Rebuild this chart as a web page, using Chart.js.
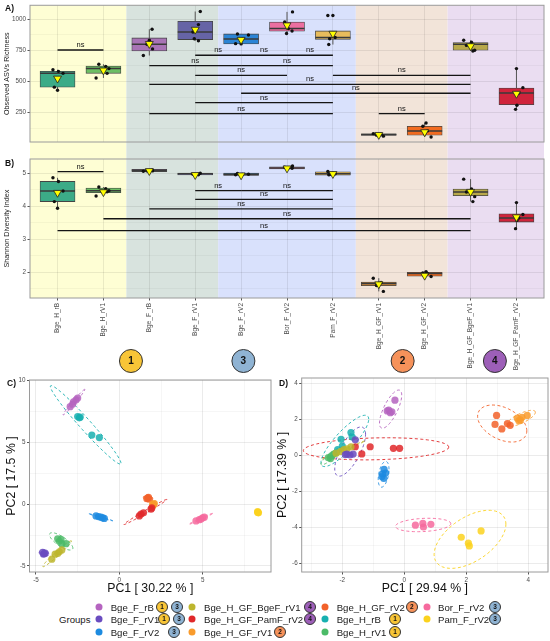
<!DOCTYPE html>
<html lang="en">
<head>
<meta charset="UTF-8">
<title>Richness, Shannon index and PCA</title>
<script src="https://cdn.jsdelivr.net/npm/chart.js"></script>
<style>
  body { margin: 0; background: #fff; font-family: "Liberation Sans", Arial, sans-serif; }
  #wrap { position: relative; width: 550px; height: 641px; overflow: hidden; }
  canvas { position: absolute; }
  .plab { position: absolute; font-size: 8.5px; font-weight: bold; color: #111; }
  .lg { position: absolute; font-size: 9.6px; color: #1a1a1a; white-space: nowrap; line-height: 11px; transform: translateY(-50%); }
  .dot { position: absolute; width: 7px; height: 7px; border-radius: 50%; transform: translate(-50%, -50%); }
  .badge { position: absolute; width: 10px; height: 10px; border-radius: 50%; border: 1px solid #333;
           transform: translate(-50%, -50%); font-size: 6.5px; font-weight: bold; text-align: center; line-height: 10px; color: #111; }
</style>
</head>
<body>
<div id="wrap">
  <canvas id="cA" width="550" height="151" style="left:0;top:0"></canvas>
  <canvas id="cB" width="550" height="229" style="left:0;top:151px"></canvas>
  <canvas id="cC" width="275" height="224" style="left:0;top:372px"></canvas>
  <canvas id="cD" width="275" height="224" style="left:275px;top:372px"></canvas>
  <div class="plab" style="left:5px;top:3px">A)</div>
  <div class="plab" style="left:5px;top:158px">B)</div>
  <div class="plab" style="left:7px;top:378px">C)</div>
  <div class="plab" style="left:279px;top:378px">D)</div>
  <div id="legend"></div>
</div>
<script>
// ---- boxplot panels (A, B) ----
const groups = ['Bge_H_rB', 'Bge_H_rV1', 'Bge_F_rB', 'Bge_F_rV1', 'Bge_F_rV2', 'Bor_F_rV2', 'Pam_F_rV2',
                'Bge_H_GF_rV1', 'Bge_H_GF_rV2', 'Bge_H_GF_BgeF_rV1', 'Bge_H_GF_PamF_rV2'];

// Observed ASVs richness
const richQ1   = [455, 566, 746, 837, 802, 904, 839, 68, 69, 751, 315];
const richMed  = [566, 604, 799, 898, 842, 925, 853, 75, 104, 799, 408];
const richQ3   = [582, 625, 850, 984, 882, 978, 906, 80, 141, 813, 448];
const richLo   = [430, 529, 709, 827, 802, 885, 797, 60, 55, 745, 277];
const richHi   = [595, 639, 920, 1062, 882, 1059, 906, 82, 167, 831, 604];
const richMean = [525, 590, 803, 917, 836, 952, 885, 73, 95, 785, 403];
const richPts = [
  [595, 582, 566, 455, 430], [639, 622, 604, 566, 529], [920, 831, 799, 762, 709],
  [1062, 957, 898, 843, 827], [882, 874, 842, 804, 802], [1059, 978, 925, 906, 885],
  [1030, 1030, 853, 843, 797], [82, 78, 75, 70, 62], [167, 141, 104, 80, 55],
  [831, 815, 790, 751, 745], [604, 451, 408, 310, 277]
];
// Shannon diversity index
const shanQ1   = [4.14, 4.41, 5.05, 4.95, 4.93, 5.13, 4.94, 1.59, 1.88, 4.32, 3.52];
const shanMed  = [4.46, 4.47, 5.09, 4.98, 4.96, 5.16, 4.98, 1.66, 1.96, 4.43, 3.64];
const shanQ3   = [4.75, 4.55, 5.12, 5.00, 5.00, 5.19, 5.04, 1.70, 2.00, 4.52, 3.77];
const shanLo   = [3.97, 4.31, 5.04, 4.94, 4.93, 5.12, 4.93, 1.42, 1.86, 4.14, 3.32];
const shanHi   = [4.86, 4.58, 5.12, 5.01, 5.00, 5.22, 5.05, 1.82, 2.02, 4.82, 4.11];
const shanMean = [4.41, 4.43, 5.07, 4.95, 4.94, 5.15, 4.98, 1.64, 1.90, 4.44, 3.67];
const shanPts = [
  [4.86, 4.75, 4.46, 4.14, 3.94], [4.58, 4.53, 4.47, 4.44, 4.31], [5.10, 5.08, 5.07, 5.07, 5.06],
  [5.00, 4.98, 4.97, 4.96, 4.95], [4.99, 4.97, 4.96, 4.95, 4.94], [5.22, 5.18, 5.16, 5.15, 5.14],
  [5.05, 5.00, 4.98, 4.96, 4.95], [1.82, 1.69, 1.67, 1.60, 1.42], [2.02, 1.98, 1.96, 1.88, 1.87],
  [4.82, 4.52, 4.43, 4.29, 4.14], [4.11, 3.75, 3.64, 3.57, 3.32]
];
// horizontal jitter of the sample points (category units)
const jitter = [
  [-0.10, 0.02, 0.12, -0.07, 0.00], [-0.10, 0.05, 0.12, 0.08, -0.16], [0.06, 0.00, -0.05, 0.07, -0.13],
  [0.11, 0.07, -0.05, -0.02, 0.07], [-0.08, 0.16, 0.03, -0.12, 0.00], [0.12, -0.05, 0.03, 0.11, -0.01],
  [-0.11, 0.00, 0.05, -0.07, -0.09], [-0.12, 0.05, 0.00, -0.05, 0.10], [0.03, -0.04, 0.06, 0.00, 0.14],
  [-0.15, 0.02, -0.09, 0.09, 0.05], [0.00, 0.14, 0.05, 0.01, -0.02]
];
// significance brackets: [from, to, height]
const sigA = [[0, 1, 753], [3, 4, 711], [4, 5, 711], [5, 6, 711], [2, 4, 628], [4, 6, 628], [3, 5, 550],
              [6, 9, 550], [2, 9, 478], [4, 9, 406], [3, 6, 331], [2, 6, 243], [7, 8, 243]];
const sigB = [[0, 1, 5.05], [3, 4, 4.47], [4, 6, 4.47], [3, 6, 4.21], [2, 6, 3.92], [1, 9, 3.62], [0, 9, 3.26]];
const sigText = 'ns';

// ---- PCA panels (C, D) ----
const pcaGroups = ['Bge_F_rB', 'Bge_F_rV1', 'Bge_F_rV2', 'Bge_H_GF_BgeF_rV1', 'Bge_H_GF_PamF_rV2', 'Bge_H_GF_rV1',
                   'Bge_H_GF_rV2', 'Bge_H_rB', 'Bge_H_rV1', 'Bor_F_rV2', 'Pam_F_rV2'];
const pcaGroupTags = [[1, 3], [1, 3], [3], [4], [4], [2], [2], [1], [1], [3], [3]];
const pcaCx = [
  [-2.95, -2.8, -2.6, -2.5, -2.75], [-4.6, -4.5, -4.45, -4.55], [-1.4, -1.25, -1.1, -1.0, -0.9],
  [-4.05, -3.85, -3.7, -3.6, -3.45], [1.2, 1.3, 1.45, 1.9, 1.95], [2.0, 2.05, 2.1, 2.02],
  [1.65, 1.75, 1.8, 1.7], [-2.5, -2.4, -2.35, -1.65, -1.2], [-3.7, -3.5, -3.6, -3.45, -3.2],
  [4.6, 4.8, 4.9, 5.0, 5.1], [8.3, 8.35, 8.3, 8.32]
];
const pcaCy = [
  [7.9, 8.1, 8.45, 8.6, 8.3], [-3.9, -4.0, -3.95, -4.05], [-0.95, -1.0, -1.05, -1.1, -1.15],
  [-4.45, -4.05, -4.0, -3.85, -3.7], [-0.95, -0.8, -0.7, -0.4, -0.3], [0.0, -0.05, 0.05, -0.1],
  [0.45, 0.55, 0.4, 0.5], [7.1, 7.0, 7.05, 5.6, 5.4], [-2.8, -2.85, -3.0, -3.2, -3.2],
  [-1.35, -1.25, -1.2, -1.1, -1.05], [-0.6, -0.7, -0.65, -0.68]
];
const pcaDx = [
  [-0.3, -0.55, -0.45, -0.5, -0.4], [-1.58, -1.85, -1.75, -1.9, -1.65], [-0.65, -0.7, -0.72, -0.66, -0.6],
  [-2.2, -2.05, -1.95, -1.85, -1.72], [-1.58, -1.37, -1.1, -0.35, -0.15], [3.65, 3.75, 3.8, 3.97, 3.7],
  [2.98, 2.93, 3.15, 3.33, 3.42], [-1.72, -1.68, -2.04, -2.0, -2.15], [-2.45, -2.38, -2.28, -2.2, -2.35],
  [0.36, 0.6, 0.62, 0.86], [1.84, 2.07, 2.1, 2.48]
];
const pcaDy = [
  [3.05, 2.45, 2.35, 2.5, 2.4], [0.85, 0.05, 0.0, 0.02, 0.05], [-0.8, -1.05, -1.2, -1.3, -1.0],
  [0.1, 0.2, 0.3, 0.35, 0.45], [0.46, 0.06, 0.46, 0.37, 0.37], [2.05, 1.95, 2.1, 2.2, 1.9],
  [2.2, 1.7, 1.45, 1.75, 1.65], [1.25, 1.0, 0.87, 0.5, 0.3], [-0.15, -0.2, 0.05, 0.12, -0.05],
  [-3.9, -3.8, -4.0, -3.85], [-4.57, -4.9, -5.05, -4.22]
];

// ---- styling ----
const FONT = '"Liberation Sans", Arial, Helvetica, sans-serif';
Chart.defaults.font.family = FONT;
const boxFill = ['#3CAB87', '#6CBF63', '#A874B5', '#6664A6', '#2B84D6', '#EC6FA0', '#E8BC5C',
                 '#D0873A', '#F26B1F', '#B8A84A', '#D0243C'];
const pcaColors = ['#B564C0', '#6A4CC0', '#1D8BE0', '#BDB62E', '#E0282A', '#F99B2C',
                   '#F2622A', '#18B0B0', '#4CBB68', '#F66A9E', '#FBD21E'];
const tagColors = { 1: '#F8C537', 2: '#F6925A', 3: '#8FB3D3', 4: '#9D5FB8' };
const bandRanges = [[-0.6, 1.5], [1.5, 3.5], [3.5, 6.5], [6.5, 8.5], [8.5, 10.6]];
const bandColors = ['#FEFED4', '#D8E3DE', '#D9E1FC', '#F2E4D9', '#EADDF1'];
const tickCol = '#4D4D4D';
const gridCol = c => (c.tick && c.tick.minor) ? 'rgba(0,0,0,0.035)' : 'rgba(0,0,0,0.08)';
const tickMarkCol = c => (c.tick && c.tick.minor) ? 'rgba(0,0,0,0)' : '#555';

function setTicks(major, minor) {
  return s => {
    s.ticks = major.map(v => ({ value: v })).concat(minor.map(v => ({ value: v, minor: true })))
      .sort((a, b) => a.value - b.value);
  };
}
const numLabel = (v, i, t) => t[i].minor ? '' : String(v);

const framePlugin = {
  id: 'frame',
  afterDatasetsDraw(chart) {
    const { ctx, chartArea: a } = chart;
    ctx.save();
    ctx.strokeStyle = '#9a9a9a';
    ctx.lineWidth = 1;
    ctx.strokeRect(a.left, a.top, a.right - a.left, a.bottom - a.top);
    ctx.restore();
  }
};

function bandsPlugin(down) {
  return {
    id: 'bands',
    beforeDraw(chart) {
      const { ctx, chartArea, scales: { x } } = chart;
      const top = down ? chartArea.top : 0;
      const bottom = down ? chart.height : chartArea.bottom;
      bandRanges.forEach((r, i) => {
        const x0 = x.getPixelForValue(r[0]), x1 = x.getPixelForValue(r[1]);
        ctx.fillStyle = bandColors[i];
        ctx.fillRect(x0, top, x1 - x0, bottom - top);
      });
    }
  };
}

function sigLabelPlugin(sig) {
  return {
    id: 'siglabels',
    afterDatasetsDraw(chart) {
      const { ctx, scales: { x, y } } = chart;
      ctx.save();
      ctx.font = '7.5px ' + FONT;
      ctx.fillStyle = '#111';
      ctx.textAlign = 'center';
      ctx.textBaseline = 'middle';
      sig.forEach(s => {
        ctx.fillText(sigText, x.getPixelForValue((s[0] + s[1]) / 2), y.getPixelForValue(s[2]) - 5);
      });
      ctx.restore();
    }
  };
}

// numbered group circles under panel B
const circleAt = [[1, 1.6], [3, 4.05], [2, 7.52], [4, 9.53]];
const circlesPlugin = {
  id: 'circles',
  afterDraw(chart) {
    const { ctx, scales: { x } } = chart;
    ctx.save();
    circleAt.forEach(([n, pos]) => {
      const cx = x.getPixelForValue(pos), cy = 210;
      ctx.beginPath();
      ctx.arc(cx, cy, 11.5, 0, Math.PI * 2);
      ctx.fillStyle = tagColors[n];
      ctx.fill();
      ctx.lineWidth = 1;
      ctx.strokeStyle = '#333';
      ctx.stroke();
      ctx.fillStyle = '#111';
      ctx.font = 'bold 10px ' + FONT;
      ctx.textAlign = 'center';
      ctx.textBaseline = 'middle';
      ctx.fillText(String(n), cx, cy + 0.5);
    });
    ctx.restore();
  }
};

function boxPanel(id, d) {
  const datasets = [];
  d.sig.forEach(s => datasets.push({
    type: 'line', order: 0, data: [{ x: s[0], y: s[2] }, { x: s[1], y: s[2] }],
    borderColor: '#151515', borderWidth: 1.3, pointRadius: 0
  }));
  datasets.push({
    type: 'scatter', order: 1, data: groups.map((g, i) => ({ x: i, y: d.mean[i] })),
    pointStyle: 'triangle', rotation: 180, pointRadius: 4.6,
    backgroundColor: '#FFFF00', borderColor: '#222', borderWidth: 0.8
  });
  datasets.push({
    type: 'scatter', order: 2,
    data: d.pts.flatMap((arr, i) => arr.map((v, j) => ({ x: i + jitter[i][j], y: v }))),
    pointRadius: 1.7, backgroundColor: '#111', borderWidth: 0
  });
  datasets.push({
    type: 'scatter', order: 3, data: groups.map((g, i) => ({ x: i, y: d.med[i] })),
    pointStyle: 'line', pointRadius: 17.5, borderColor: '#3a3a3a', borderWidth: 1.5
  });
  datasets.push({
    type: 'bar', order: 4, data: groups.map((g, i) => ({ x: i, y: [d.q1[i], d.q3[i]] })),
    backgroundColor: boxFill, borderColor: '#444', borderWidth: 0.8, borderSkipped: false, barThickness: 35
  });
  datasets.push({
    type: 'line', order: 5,
    data: groups.flatMap((g, i) => [{ x: i, y: d.lo[i] }, { x: i, y: d.hi[i] }, { x: i, y: null }]),
    borderColor: '#555', borderWidth: 1, pointRadius: 0, spanGaps: false
  });

  const plugins = [bandsPlugin(d.bandsDown), framePlugin, sigLabelPlugin(d.sig)];
  if (d.circles) plugins.push(circlesPlugin);

  return new Chart(document.getElementById(id), {
    type: 'scatter',
    data: { datasets },
    plugins,
    options: {
      responsive: false, animation: false, events: [],
      layout: { padding: d.padding, autoPadding: false },
      plugins: { legend: { display: false }, tooltip: { enabled: false } },
      scales: {
        x: {
          type: 'linear', min: -0.6, max: 10.6, offset: false,
          afterBuildTicks: s => { s.ticks = groups.map((g, i) => ({ value: i })); },
          afterFit: s => { s.height = d.xHeight; },
          ticks: {
            display: d.showX, autoSkip: false, minRotation: 90, maxRotation: 90, padding: 2.5,
            font: { size: 6.5 }, color: tickCol, callback: v => groups[v]
          },
          grid: { offset: false, color: gridCol, drawTicks: d.showX, tickLength: 2.5, tickColor: '#555' },
          border: { display: false }
        },
        y: {
          type: 'linear', min: d.yMin, max: d.yMax, stacked: false,
          afterBuildTicks: setTicks(d.major, d.minor),
          afterFit: s => { s.width = 30; },
          ticks: { font: { size: 6.3 }, color: tickCol, padding: 1.5, callback: numLabel },
          grid: { color: gridCol, tickLength: 2.5, tickColor: tickMarkCol },
          border: { display: false },
          title: { display: true, text: d.title, font: { size: 7.2 }, color: '#222', padding: { top: 3, bottom: 0 } }
        }
      }
    }
  });
}

boxPanel('cA', {
  q1: richQ1, med: richMed, q3: richQ3, lo: richLo, hi: richHi, mean: richMean, pts: richPts, sig: sigA,
  yMin: 15, yMax: 1112, major: [250, 500, 750, 1000], minor: [125, 375, 625, 875],
  title: 'Observed ASVs Richness', bandsDown: true, showX: false, xHeight: 0,
  padding: { top: 5, right: 6, bottom: 9, left: 0 }, circles: false
});
boxPanel('cB', {
  q1: shanQ1, med: shanMed, q3: shanQ3, lo: shanLo, hi: shanHi, mean: shanMean, pts: shanPts, sig: sigB,
  yMin: 1.22, yMax: 5.43, major: [2, 3, 4, 5], minor: [1.5, 2.5, 3.5, 4.5],
  title: 'Shannon Diversity Index', bandsDown: false, showX: true, xHeight: 82,
  padding: { top: 8, right: 6, bottom: 0, left: 0 }, circles: true
});

// ---- PCA ----
const fq95 = [null, null, 19.0, 9.55, 6.94, 5.79, 5.14]; // F(0.95; 2, n-1) by n-1
function ellipsePoints(data) {
  const n = data.length;
  if (n < 3) return null;
  const mx = data.reduce((a, p) => a + p.x, 0) / n, my = data.reduce((a, p) => a + p.y, 0) / n;
  let sxx = 0, syy = 0, sxy = 0;
  data.forEach(p => { const dx = p.x - mx, dy = p.y - my; sxx += dx * dx; syy += dy * dy; sxy += dx * dy; });
  sxx /= n - 1; syy /= n - 1; sxy /= n - 1;
  const a = Math.sqrt(sxx), b = sxy / a, c = Math.sqrt(Math.max(syy - b * b, 1e-9));
  const r = Math.sqrt(2 * fq95[Math.min(n - 1, 6)]);
  const out = [];
  for (let k = 0; k <= 72; k++) {
    const t = 2 * Math.PI * k / 72, u = Math.cos(t), v = Math.sin(t);
    out.push([mx + r * u * a, my + r * (u * b + v * c)]);
  }
  return out;
}
const ellipsePlugin = {
  id: 'ellipses',
  beforeDatasetsDraw(chart) {
    const { ctx, chartArea: ca, scales: { x, y } } = chart;
    ctx.save();
    ctx.beginPath();
    ctx.rect(ca.left, ca.top, ca.right - ca.left, ca.bottom - ca.top);
    ctx.clip();
    chart.data.datasets.forEach((ds, i) => {
      const e = ellipsePoints(ds.data);
      if (!e) return;
      ctx.beginPath();
      e.forEach((p, k) => {
        const px = x.getPixelForValue(p[0]), py = y.getPixelForValue(p[1]);
        if (k) ctx.lineTo(px, py); else ctx.moveTo(px, py);
      });
      ctx.setLineDash([3, 2.5]);
      ctx.lineWidth = 0.9;
      ctx.strokeStyle = pcaColors[i];
      ctx.stroke();
    });
    ctx.restore();
  }
};

function pcaPanel(id, xs, ys, o) {
  const datasets = pcaGroups.map((g, i) => ({
    label: g,
    data: xs[i].map((v, j) => ({ x: v, y: ys[i][j] })),
    pointRadius: 3.6, borderWidth: 0, backgroundColor: pcaColors[i] + 'D9'
  }));
  return new Chart(document.getElementById(id), {
    type: 'scatter',
    data: { datasets },
    plugins: [ellipsePlugin, framePlugin],
    options: {
      responsive: false, animation: false, events: [],
      layout: { padding: o.padding, autoPadding: false },
      plugins: { legend: { display: false }, tooltip: { enabled: false } },
      scales: {
        x: {
          type: 'linear', min: o.xMin, max: o.xMax,
          afterBuildTicks: setTicks(o.xMajor, o.xMinor),
          afterFit: s => { s.height = 24; },
          ticks: { font: { size: 6.3 }, color: tickCol, padding: 1.5, maxRotation: 0, callback: numLabel },
          grid: { color: gridCol, tickLength: 2.5, tickColor: tickMarkCol },
          border: { display: false },
          title: { display: true, text: o.xTitle, font: { size: 12.3 }, color: '#111', padding: 0 }
        },
        y: {
          type: 'linear', min: o.yMin, max: o.yMax,
          afterBuildTicks: setTicks(o.yMajor, o.yMinor),
          afterFit: s => { s.width = o.yWidth; },
          ticks: { font: { size: 6.3 }, color: tickCol, padding: 1.5, callback: numLabel },
          grid: { color: gridCol, tickLength: 2.5, tickColor: tickMarkCol },
          border: { display: false },
          title: { display: true, text: o.yTitle, font: { size: 12.3 }, color: '#111', padding: { top: o.yTitlePad, bottom: 0 } }
        }
      }
    }
  });
}

pcaPanel('cC', pcaCx, pcaCy, {
  xMin: -5.39, xMax: 9.1, yMin: -5.49, yMax: 10.06,
  xMajor: [-5, 0, 5], xMinor: [-2.5, 2.5, 7.5], yMajor: [-5, 0, 5, 10], yMinor: [-2.5, 2.5, 7.5],
  xTitle: 'PC1 [ 30.22 % ]', yTitle: 'PC2 [ 17.5 % ]', yWidth: 29.5, yTitlePad: 4.6,
  padding: { top: 8, right: 4, bottom: 0, left: 0 }
});
pcaPanel('cD', pcaDx, pcaDy, {
  xMin: -3.31, xMax: 4.64, yMin: -6.5, yMax: 4.28,
  xMajor: [-2, 0, 2, 4], xMinor: [-3, -1, 1, 3], yMajor: [-6, -4, -2, 0, 2, 4], yMinor: [-5, -3, -1, 1, 3],
  xTitle: 'PC1 [ 29.94 % ]', yTitle: 'PC2 [ 17.39 % ]', yWidth: 26.7, yTitlePad: 0,
  padding: { top: 6, right: 2, bottom: 0, left: 0 }
});

// ---- shared legend ----
const legendColX = [[99, 110.7], [191.7, 204], [325, 336.7], [426.7, 438]];
const legendRowY = [606.7, 619, 631.7];
const legendTagX = [[162, 177], [164, 179], [174], [310], [310], [280], [411.7], [395], [395], [495], [495]];
const lg = document.getElementById('legend');
function add(cls, css, text) {
  const el = document.createElement('div');
  el.className = cls;
  Object.assign(el.style, css);
  if (text) el.textContent = text;
  lg.appendChild(el);
}
add('lg', { left: '59px', top: legendRowY[1] + 'px' }, 'Groups');
pcaGroups.forEach((g, i) => {
  const col = Math.floor(i / 3), row = i % 3;
  const y = legendRowY[row];
  add('dot', { left: legendColX[col][0] + 'px', top: y + 'px', background: pcaColors[i] });
  add('lg', { left: legendColX[col][1] + 'px', top: y + 'px' }, g);
  pcaGroupTags[i].forEach((t, k) => {
    add('badge', { left: legendTagX[i][k] + 'px', top: y + 'px', background: tagColors[t] }, String(t));
  });
});
</script>
</body>
</html>
